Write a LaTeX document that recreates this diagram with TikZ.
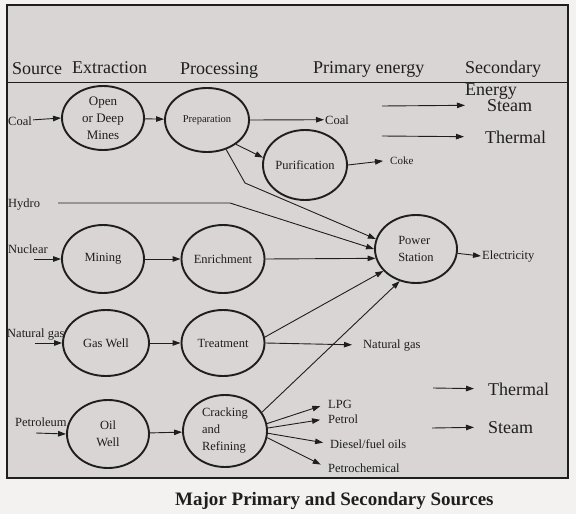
\documentclass[tikz,border=0pt]{standalone}
\usepackage{fontspec}
\setmainfont{Liberation Serif}
\usetikzlibrary{arrows.meta,shapes.geometric}
\definecolor{paper}{HTML}{F4F2F0}
\definecolor{panel}{HTML}{D9D5D4}
\definecolor{ink}{HTML}{1E1E1E}

\begin{document}
\begin{tikzpicture}[x=1pt,y=-1pt,
  proc/.style={draw=ink,line width=1.9pt,ellipse,inner sep=0pt,align=center,text=ink,
    font=\fontsize{12.5}{17}\selectfont},
  lbl/.style={anchor=base west,inner sep=1pt,text=ink,font=\fontsize{12.5}{15}\selectfont},
  head/.style={anchor=base west,inner sep=0pt,text=ink,font=\fontsize{18}{20}\selectfont},
  arr/.style={draw=ink,line width=0.9pt,-{Triangle[length=8pt,width=5.5pt]}}]
\useasboundingbox (0,0) rectangle (576,514);
\fill[paper] (0,0) rectangle (576,514);
\draw[ink,line width=1.4pt,fill=panel] (7,5) rectangle (568,478);
\draw[ink,line width=0.9pt] (7,82) -- (568,82);

% column heads
\draw (12,74) node[head] (HSrc) {Source};
\draw (72,73) node[head] (HExt) {Extraction};
\draw (180,74) node[head] (HProc) {Processing};
\draw (313,73) node[head] (HPrim) {Primary energy};
\draw (465,73) node[head] (HSec) {Secondary};
\draw (465,95) node[head] (HEn) {Energy};

% process ellipses
\draw (103,118) node[proc,minimum width=82pt,minimum height=64pt,font=\fontsize{13}{17}\selectfont] (Mine) {Open\\or Deep\\Mines};
\draw (207,120) node[proc,minimum width=84pt,minimum height=64pt,font=\fontsize{10.5}{13}\selectfont] (Prep) {Preparation};
\draw (305,165) node[proc,minimum width=84pt,minimum height=70pt] (Puri) {Purification};
\draw (416,249) node[proc,minimum width=82pt,minimum height=68pt,align=left] (PS) {Power\\Station};
\draw (103,259) node[proc,minimum width=82pt,minimum height=68pt] (Mining) {Mining};
\draw (223,259) node[proc,minimum width=83pt,minimum height=68pt] (Enrich) {Enrichment};
\draw (106,343) node[proc,minimum width=86pt,minimum height=66pt] (GasWell) {Gas Well};
\draw (223,343) node[proc,minimum width=83pt,minimum height=66pt] (Treat) {Treatment};
\draw (108,434) node[proc,minimum width=82pt,minimum height=68pt] (OilWell) {Oil\\Well};
\draw (225,431) node[proc,minimum width=84pt,minimum height=72pt,align=left] (Crack) {Cracking\\and\\Refining};

% sources
\draw (7,125) node[lbl] (CoalL) {Coal};
\draw (7,207) node[lbl] (Hydro) {Hydro};
\draw (7,253) node[lbl] (Nuclear) {Nuclear};
\draw (6,337) node[lbl] (GasL) {Natural gas};
\draw (14,426) node[lbl] (Petro) {Petroleum};
\coordinate (h0) at (58,203);
\coordinate (h1) at (230,203);
\coordinate (n0) at (34,259);
\coordinate (g0) at (35,343);
\coordinate (p0) at (36,433);
\coordinate (k1) at (245,183);

% products
\draw (324,124) node[lbl] (CoalR) {Coal};
\draw (389,164) node[lbl,font=\fontsize{11}{13}\selectfont] (Coke) {Coke};
\draw (481,259) node[lbl] (Elec) {Electricity};
\draw (362,348) node[lbl] (GasR) {Natural gas};
\draw (327,408) node[lbl] (LPG) {LPG};
\draw (327,423) node[lbl] (Petrol) {Petrol};
\draw (329,448) node[lbl] (Diesel) {Diesel/fuel oils};
\draw (327,472) node[lbl] (Chem) {Petrochemical};

% secondary energy
\coordinate (s0) at (382,106);
\coordinate (t0) at (382,136);
\coordinate (t2) at (433,388);
\coordinate (s2) at (432,428);
\draw (487,111) node[head] (Steam) {Steam};
\draw (485,143) node[head] (Thermal) {Thermal};
\draw (488,395) node[head] (ThermalB) {Thermal};
\draw (488,433) node[head] (SteamB) {Steam};

% coal chain
\draw[arr] (CoalL) -- (Mine.west);
\draw[arr] (Mine) -- (Prep);
\draw[arr] (Prep.east) -- (CoalR.west);
\draw[arr] (Prep.-40) -- (Puri.170);
\draw[arr,shorten >=6pt] (Puri.east) -- (Coke.west);
\draw[arr] (Prep.-57) -- (k1) -- (PS.166);
\draw[arr] (h0) -- (h1) -- (PS.180);

% nuclear, gas, petroleum
\draw[arr] (n0) -- (Mining.west);
\draw[arr] (Mining) -- (Enrich);
\draw[arr] (Enrich.east) -- (PS.193);
\draw[arr] (g0) -- (GasWell.west);
\draw[arr] (GasWell) -- (Treat);
\draw[arr] (Treat.8) -- (PS.214);
\draw[arr,shorten >=10pt] (Treat.east) -- (GasR.west);
\draw[arr] (p0) -- (OilWell.west);
\draw[arr] (OilWell) -- (Crack);
\draw[arr] (Crack.27) -- (PS.243);
\draw[arr,shorten >=7pt] (Crack.10) -- (LPG.west);
\draw[arr,shorten >=7pt] (Crack.4) -- (Petrol.west);
\draw[arr,shorten >=6pt] (Crack.-3) -- (Diesel.west);
\draw[arr,shorten >=7pt] (Crack.-9) -- (Chem.west);
\draw[arr] (PS.-6) -- (Elec.west);

% secondary arrows
\draw[arr,shorten >=22pt] (s0) -- (Steam.west);
\draw[arr,shorten >=21pt] (t0) -- (Thermal.west);
\draw[arr,shorten >=14pt] (t2) -- (ThermalB.west);
\draw[arr,shorten >=14pt] (s2) -- (SteamB.west);

\draw (175,505) node[anchor=base west,inner sep=0pt,text=ink,font=\bfseries\fontsize{19}{22}\selectfont] (Title) {Major Primary and Secondary Sources};
\end{tikzpicture}
\end{document}
